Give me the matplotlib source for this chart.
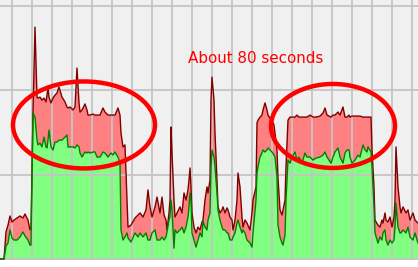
import matplotlib
matplotlib.use('Agg')
import matplotlib.pyplot as plt
from matplotlib.patches import Ellipse
import numpy as np

# time in seconds, CPU usage in percent (total and kernel share)
t = [0, 4, 6, 8, 10, 12, 14, 17, 20, 23, 25, 28, 30, 31, 33, 35, 37, 38, 40, 42,
     44, 46, 47, 48, 49, 51, 53, 55, 57, 59, 62, 65, 67, 68, 70, 73, 75, 77, 79, 80,
     82, 85, 87, 88, 90, 93, 95, 97, 100, 103, 105, 108, 111, 113, 115, 118, 120, 121, 123, 125,
     127, 128, 131, 135, 138, 140, 143, 146, 148, 150, 152, 155, 157, 160, 162, 164, 166, 167, 169, 170,
     171, 172, 174, 175, 177, 180, 182, 184, 186, 188, 189, 190, 191, 192, 194, 196, 198, 200, 202, 203,
     205, 207, 208, 210, 211, 212, 214, 215, 217, 218, 220, 222, 223, 225, 227, 228, 230, 232, 233, 235,
     237, 238, 240, 242, 243, 245, 247, 250, 252, 253, 256, 257, 258, 260, 262, 263, 265, 267, 268, 270,
     272, 274, 275, 277, 278, 280, 282, 283, 285, 286, 288, 290, 292, 295, 297, 299, 302, 305, 307, 310,
     313, 316, 320, 323, 325, 327, 331, 333, 335, 338, 340, 343, 345, 347, 349, 350, 352, 355, 358, 360,
     363, 365, 367, 368, 371, 372, 374, 375, 378, 380, 382, 383, 385, 386, 388, 390, 392, 394, 395, 396,
     398, 400, 401, 403, 406, 408, 410, 413, 415, 418]

total = [0, 0, 10.7, 13.4, 17.0, 14.6, 15.4, 16.2, 17.0, 16.2, 17.8, 15.4, 11.5, 12.3, 57.7, 91.7, 64.0, 63.6, 64.0, 62.8,
         63.6, 62.1, 64.8, 68.0, 64.0, 61.7, 63.6, 64.8, 65.6, 68.0, 64.0, 62.1, 60.1, 59.7, 60.1, 58.9, 60.1, 75.5, 61.7, 58.1,
         58.9, 61.3, 58.9, 56.9, 56.9, 57.3, 56.9, 56.9, 56.9, 59.7, 58.1, 56.9, 56.9, 56.9, 56.9, 59.7, 56.9, 49.8, 44.3, 45.1,
         23.3, 12.6, 13.4, 16.2, 17.4, 18.2, 16.6, 19.4, 27.3, 20.6, 16.6, 20.6, 24.5, 18.2, 24.5, 17.4, 15.4, 11.5, 18.2, 23.3,
         52.2, 41.9, 23.3, 16.6, 18.2, 20.6, 18.2, 26.1, 23.3, 27.3, 31.2, 36.0, 28.5, 18.2, 12.6, 10.3, 12.6, 11.5, 14.6, 15.4,
         23.3, 28.5, 26.1, 31.2, 62.8, 71.9, 62.8, 49.8, 31.2, 20.6, 18.2, 19.4, 20.6, 18.2, 20.2, 19.4, 16.6, 15.4, 11.5, 15.4,
         23.3, 34.0, 28.5, 16.6, 12.6, 15.4, 14.2, 11.5, 18.2, 23.3, 28.5, 53.8, 54.9, 56.1, 56.9, 58.9, 61.7, 58.9, 56.9, 55.7,
         54.9, 53.0, 49.8, 43.1, 32.0, 19.4, 17.4, 19.4, 23.3, 36.4, 54.9, 56.1, 56.1, 56.1, 56.9, 56.1, 56.1, 56.1, 56.1, 56.9,
         56.1, 56.1, 56.5, 57.7, 59.7, 56.9, 56.1, 56.9, 56.9, 58.1, 56.9, 60.1, 56.1, 56.1, 56.9, 56.1, 56.5, 56.5, 56.5, 56.5,
         56.1, 56.1, 56.1, 56.1, 56.1, 43.1, 28.5, 15.4, 13.4, 12.6, 15.4, 14.2, 18.2, 15.4, 14.6, 16.6, 12.6, 16.6, 23.3, 44.3,
         28.5, 20.6, 18.2, 20.6, 18.2, 19.4, 15.4, 18.2, 15.4, 14.2]

kernel = [0, 0, 5.1, 6.3, 11.5, 8.3, 7.5, 7.5, 8.7, 10.7, 9.1, 7.5, 5.5, 5.5, 57.7, 56.1, 47.0, 45.1, 45.8, 44.3,
          48.2, 44.3, 43.9, 47.0, 51.0, 44.3, 43.1, 46.2, 46.2, 47.0, 47.0, 48.2, 49.0, 44.3, 44.3, 44.3, 43.9, 45.1, 44.3, 41.9,
          40.3, 42.3, 41.9, 42.3, 41.9, 42.3, 42.3, 40.3, 40.3, 42.3, 41.9, 40.3, 41.9, 41.1, 42.3, 40.3, 37.9, 11.5, 7.5, 8.7,
          10.3, 8.3, 6.7, 10.3, 8.7, 10.3, 8.7, 10.3, 7.5, 7.5, 10.3, 11.5, 7.5, 7.5, 8.7, 7.5, 8.7, 10.7, 15.4, 16.6,
          23.3, 19.4, 4.3, 11.5, 10.3, 11.5, 12.6, 10.3, 12.6, 16.6, 20.6, 26.1, 23.3, 10.3, 7.5, 4.7, 7.5, 10.3, 8.7, 15.0,
          12.6, 11.5, 15.4, 18.2, 36.4, 43.1, 40.3, 36.4, 26.1, 19.4, 15.4, 12.6, 11.5, 11.5, 10.3, 10.3, 7.5, 7.5, 8.7, 10.3,
          14.2, 15.4, 12.6, 10.3, 11.5, 10.3, 7.5, 6.3, 4.7, 10.3, 23.3, 34.0, 36.4, 40.3, 41.9, 43.1, 42.3, 43.1, 43.9, 43.1,
          42.3, 41.1, 40.3, 32.4, 13.4, 8.7, 6.3, 5.5, 9.5, 23.3, 39.1, 37.9, 40.3, 42.3, 39.1, 40.3, 37.9, 41.9, 40.3, 40.3,
          39.1, 39.9, 40.3, 41.1, 42.3, 40.3, 37.9, 40.3, 42.3, 43.9, 40.3, 37.9, 41.9, 43.1, 43.1, 40.3, 37.9, 39.1, 41.1, 40.3,
          45.1, 43.1, 42.3, 44.3, 42.3, 36.4, 20.6, 10.3, 6.3, 8.7, 7.5, 10.3, 11.5, 7.5, 5.5, 7.5, 6.3, 7.5, 12.6, 22.1,
          12.6, 10.3, 10.3, 11.5, 10.3, 12.6, 8.7, 7.5, 10.3, 6.3]

note = 'About 80 seconds'

# ----------------------------------------------------------------------------------------------------
px = 2.53  # pixels per percent

fig = plt.figure(figsize=(4.18, 2.67), dpi=100)
ax = fig.add_axes([0, 7 / 267, 1, 260 / 267])
ax.set_facecolor('#f0f0f0')

ax.fill_between(t, 0, total, color='#ff8080', lw=0, zorder=1)
ax.fill_between(t, 0, kernel, color='#80ff80', lw=0, zorder=1)

ax.set_xticks(np.arange(12.3, 418, 20))
ax.set_yticks([0, 100 / 3, 200 / 3, 100])
ax.grid(True, color='#c4c4c4', lw=1.3, zorder=2)
ax.set_axisbelow(False)

ax.plot(t, total, color='#800000', lw=1.0, zorder=3)
ax.plot(t, kernel, color='#008000', lw=1.0, zorder=3)

ax.add_patch(Ellipse((84, 53.0), 142, 87 / px, fill=False, ec='#ff0000', lw=3.2, zorder=4))
ax.add_patch(Ellipse((333, 52.6), 124, 84 / px, fill=False, ec='#ff0000', lw=3.2, zorder=4))
ax.text(256, 77.6, note, color='#ff0000', fontsize=10.9, ha='center', va='baseline', zorder=5)

ax.set_xlim(0, 418)
ax.set_ylim(-0.4, 102.4)
ax.tick_params(length=0, labelbottom=False, labelleft=False)
for s in ax.spines.values():
    s.set_visible(False)

fig.savefig('out.png', dpi=100)
